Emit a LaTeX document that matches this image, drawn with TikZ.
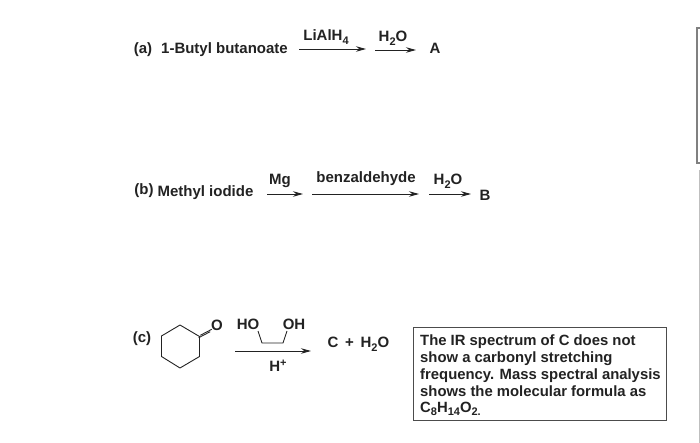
\documentclass[tikz,border=0pt]{standalone}
\usepackage{fontspec}
\setmainfont{Liberation Sans}
\usepackage{tikz}
\usetikzlibrary{positioning,arrows.meta}
\definecolor{inkcol}{HTML}{222222}
\newcommand{\chemsub}[1]{\raisebox{-0.25em}{\fontsize{11}{11}\selectfont\bfseries #1}}

\begin{document}
\begin{tikzpicture}[x=1pt,y=-1pt,
    textnode/.style={inner sep=0pt, text=inkcol, font=\fontsize{15}{15}\selectfont\bfseries},
    boxnode/.style={rectangle, draw=black!70, line width=1pt, fill=white, text=inkcol, inner sep=0pt, minimum width=253pt, minimum height=93pt},
    reactarrow/.style={draw=inkcol, line width=0.9pt, -{Stealth[length=10pt,width=5.5pt]}},
    bondline/.style={draw=inkcol, line width=0.9pt, line join=round}]

        \useasboundingbox (0,0) rectangle (700,443);

        % part a
        \node[textnode] (a) at (143,49.5) {(a)};
        \node[textnode] (butyl) at (224.5,49.5) {1-Butyl butanoate};
        \node[textnode] (lialh) at (326,37) {LiAlH\chemsub{4}};
        \node[textnode] (water1) at (393,38) {H\chemsub{2}O};
        \node[textnode] (A) at (435,48) {A};
        \coordinate (a1) at (299,49);
        \coordinate (a2) at (366,49);
        \coordinate (a3) at (375,50);
        \coordinate (a4) at (416,50);
        \draw[reactarrow] (a1) -- (a2);
        \draw[reactarrow] (a3) -- (a4);

        % part b
        \node[textnode] (b) at (144,191) {(b)};
        \node[textnode] (methyl) at (205.5,193) {Methyl iodide};
        \node[textnode] (mg) at (280,181) {Mg};
        \node[textnode] (benz) at (366,179) {benzaldehyde};
        \node[textnode] (water2) at (448,181) {H\chemsub{2}O};
        \node[textnode] (B) at (485,195) {B};
        \coordinate (b1) at (267,194);
        \coordinate (b2) at (303,194);
        \coordinate (b3) at (312,194);
        \coordinate (b4) at (419,194);
        \coordinate (b5) at (429,194);
        \coordinate (b6) at (471,194);
        \draw[reactarrow] (b1) -- (b2);
        \draw[reactarrow] (b3) -- (b4);
        \draw[reactarrow] (b5) -- (b6);

        % part c
        \node[textnode] (c) at (142,339) {(c)};
        \node[textnode] (O) at (217,325) {O};
        \coordinate (r1) at (180,325);
        \coordinate (r2) at (199.5,336.5);
        \coordinate (r3) at (199.5,356.5);
        \coordinate (r4) at (180,368);
        \coordinate (r5) at (161.5,356.5);
        \coordinate (r6) at (161.5,336);
        \draw[bondline] (r1) -- (r2) -- (r3) -- (r4) -- (r5) -- (r6) -- cycle;
        \draw[bondline, transform canvas={xshift=-0.8pt, yshift=-1.2pt}] (r2) -- (O.south west);
        \draw[bondline, transform canvas={xshift=0.8pt, yshift=1.2pt}] (r2) -- (O.south west);

        \node[textnode] (ho) at (248,324) {HO};
        \node[textnode] (oh) at (294,324) {OH};
        \coordinate (d1) at (262,343);
        \coordinate (d2) at (283,343);
        \draw[bondline] (258,331) -- (d1) -- (d2) -- (287,331);

        \coordinate (c1) at (235,351);
        \coordinate (c2) at (311,351);
        \draw[reactarrow] (c1) -- (c2);
        \node[textnode] (hplus) at (278,366) {H\raisebox{0.35em}{\fontsize{11}{11}\selectfont\bfseries +}};
        \node[textnode] (prod) at (358.5,344) {C\;\,+\;\,H\chemsub{2}O};

        \node[boxnode] (info) at (539.5,373.5) {};
        \node[textnode, align=left, anchor=north west, font=\fontsize{14.85}{16.9}\selectfont\bfseries] (infotext) at (420,335) {The IR spectrum of C does not\\show a carbonyl stretching\\frequency. Mass spectral analysis\\shows the molecular formula as\\[-1.5pt]C\chemsub{8}H\chemsub{14}O\chemsub{2.}};

        % edge of the page
        \coordinate (e1) at (697,28);
        \coordinate (e2) at (697,163);
        \coordinate (e3) at (700,28);
        \coordinate (e4) at (700,163);
        \coordinate (e5) at (699.5,170);
        \coordinate (e6) at (699.5,443);
        \draw[black!50, line width=1.2pt] (e3) -- (e1) -- (e2) -- (e4);
        \draw[black!25, line width=0.7pt] (e5) -- (e6);

        \end{tikzpicture}
\end{document}
